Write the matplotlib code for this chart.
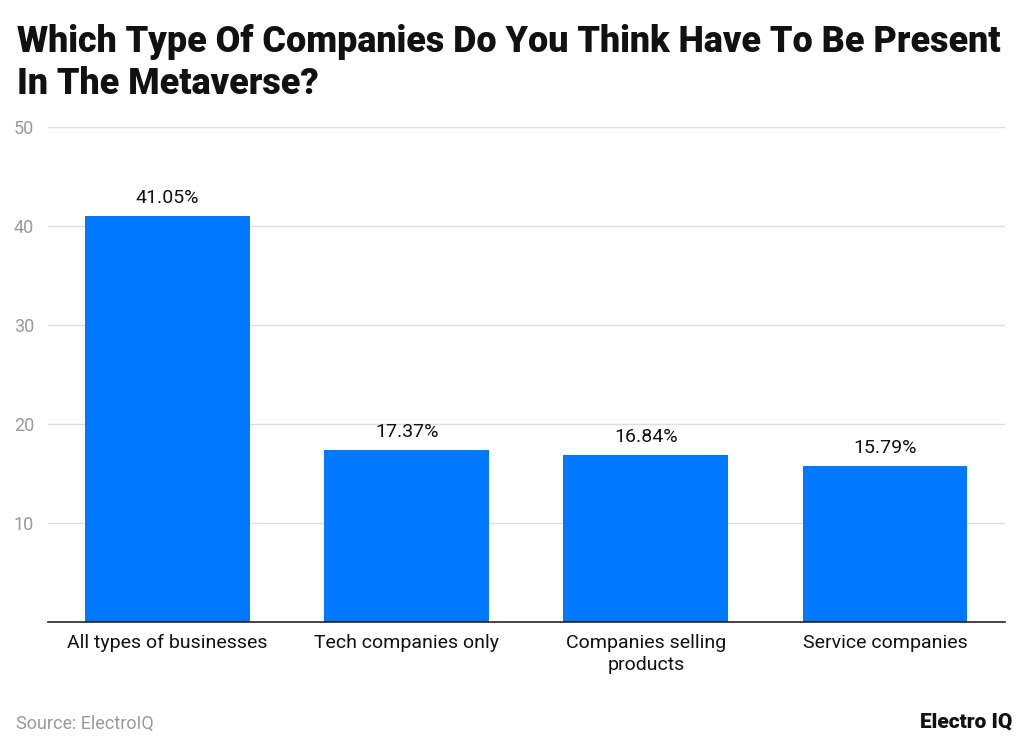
import matplotlib
matplotlib.use("Agg")
import matplotlib.pyplot as plt

categories = ["All types of businesses", "Tech companies only",
              "Companies selling\nproducts", "Service companies"]
values = [41.05, 17.37, 16.84, 15.79]
value_labels = ["41.05%", "17.37%", "16.84%", "15.79%"]
yticks = [10, 20, 30, 40, 50]

plt.rcParams["font.family"] = ["Roboto", "DejaVu Sans"]

fig = plt.figure(figsize=(10.24, 7.51), dpi=100)
ax = fig.add_axes([0.047, 0.172, 0.934, 0.659])

x = range(len(categories))
ax.bar(x, values, width=0.69, color="#0077FF", zorder=3)
for xi, v, lab in zip(x, values, value_labels):
    ax.text(xi, v + 0.9, lab, ha="center", va="bottom", fontsize=14, color="#111111")

ax.set_xlim(-0.5, 3.5)
ax.set_ylim(0, 50)
ax.set_yticks(yticks)
ax.set_xticks(list(x))
ax.set_xticklabels(categories, fontsize=14, color="#111111", linespacing=1.25)
ax.tick_params(axis="x", length=0, pad=9)
ax.tick_params(axis="y", length=0, pad=10, labelsize=13, labelcolor="#999999")
ax.grid(axis="y", color="#dddddd", linewidth=1, zorder=0)
for s in ["top", "right", "left"]:
    ax.spines[s].set_visible(False)
ax.spines["bottom"].set_color("#222222")
ax.spines["bottom"].set_linewidth(1.2)
ax.spines["bottom"].set_zorder(4)

fig.text(0.017, 0.968, "Which Type Of Companies Do You Think Have To Be Present\nIn The Metaverse?",
         ha="left", va="top", fontsize=25.8, fontweight=900, color="#111111", linespacing=1.2)
fig.text(0.016, 0.036, "Source: ElectroIQ", ha="left", va="center", fontsize=13, color="#999999")
fig.text(0.989, 0.038, "Electro IQ", ha="right", va="center", fontsize=15, fontweight=900, color="#111111")

fig.savefig("out.png", dpi=100)
